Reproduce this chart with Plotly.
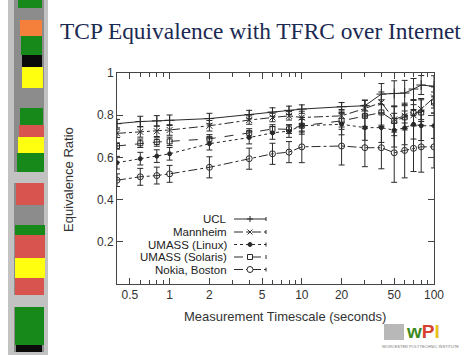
import plotly.graph_objects as go

# ---------------- data ----------------
timescale = [0.4, 0.6, 0.8, 1, 2, 4, 6, 8, 10, 20, 30, 40, 50, 60, 70, 80, 100]

ucl = [0.76, 0.77, 0.773, 0.776, 0.784, 0.803, 0.815, 0.823, 0.829, 0.84, 0.845, 0.90, 0.903, 0.905, 0.924, 0.943, 0.937]
ucl_err = [0.02, 0.025, 0.025, 0.025, 0.025, 0.02, 0.02, 0.02, 0.02, 0.02, 0.025, 0.05, 0.06, 0.06, 0.05, 0.045, 0.05]

mannheim = [0.714, 0.721, 0.724, 0.730, 0.75, 0.777, 0.789, 0.797, 0.789, 0.797, 0.832, 0.86, 0.78, 0.797, 0.80, 0.829, 0.884]
mannheim_err = [0.02, 0.025, 0.025, 0.025, 0.025, 0.02, 0.02, 0.02, 0.03, 0.03, 0.04, 0.05, 0.06, 0.06, 0.05, 0.05, 0.05]

linux = [0.575, 0.594, 0.606, 0.617, 0.665, 0.694, 0.716, 0.725, 0.75, 0.757, 0.741, 0.741, 0.729, 0.74, 0.757, 0.75, 0.75]
linux_err = [0.03, 0.03, 0.03, 0.03, 0.03, 0.03, 0.03, 0.03, 0.04, 0.05, 0.06, 0.07, 0.08, 0.08, 0.07, 0.07, 0.06]

solaris = [0.654, 0.667, 0.673, 0.676, 0.688, 0.716, 0.735, 0.733, 0.75, 0.773, 0.797, 0.813, 0.773, 0.79, 0.81, 0.813, 0.86]
solaris_err = [0.015, 0.02, 0.02, 0.02, 0.02, 0.02, 0.02, 0.02, 0.03, 0.04, 0.05, 0.06, 0.07, 0.06, 0.06, 0.06, 0.05]

nokia = [0.492, 0.508, 0.514, 0.522, 0.553, 0.594, 0.617, 0.625, 0.65, 0.654, 0.646, 0.646, 0.622, 0.633, 0.643, 0.65, 0.65]
nokia_err = [0.03, 0.04, 0.04, 0.04, 0.05, 0.05, 0.05, 0.05, 0.075, 0.09, 0.09, 0.10, 0.14, 0.13, 0.11, 0.12, 0.10]

series_names = ["UCL", "Mannheim", "UMASS (Linux)", "UMASS (Solaris)", "Nokia, Boston"]

x_tickvals = [0.5, 1, 2, 5, 10, 20, 50, 100]
x_ticktext = ["0.5", "1", "2", "5", "10", "20", "50", "100"]
x_minor = [0.4, 0.6, 0.7, 0.8, 0.9, 3, 4, 6, 7, 8, 9, 30, 40, 60, 70, 80, 90]
y_tickvals = [0.2, 0.4, 0.6, 0.8, 1.0]
y_ticktext = ["0.2", "0.4", "0.6", "0.8", "1"]

# ---------------- layout geometry ----------------
W, H = 474, 355
L, R, T, B = 117, 40, 73, 71
PW, PH = W - L - R, H - T - B


def px(xp):
    return (xp - L) / PW


def py(yp):
    return (H - B - yp) / PH


INK = "#2a2a2a"
SANS = "Liberation Sans, Arial, sans-serif"
styles = [
    dict(dash="solid", symbol="cross-thin-open", size=7),
    dict(dash="dashdot", symbol="x-thin-open", size=6),
    dict(dash="dot", symbol="circle", size=4),
    dict(dash="dash", symbol="square-open", size=5),
    dict(dash="dashdot", symbol="circle-open", size=6),
]
values = [ucl, mannheim, linux, solaris, nokia]
errors = [ucl_err, mannheim_err, linux_err, solaris_err, nokia_err]

fig = go.Figure()
for name, yv, ev, st in zip(series_names, values, errors, styles):
    fig.add_trace(go.Scatter(
        x=timescale, y=yv, name=name, mode="lines+markers",
        line=dict(color=INK, width=1, dash=st["dash"]),
        marker=dict(symbol=st["symbol"], size=st["size"], color=INK,
                    line=dict(color=INK, width=1)),
        error_y=dict(type="data", array=ev, visible=True, color=INK,
                     thickness=1, width=3),
        showlegend=False,
    ))

shapes = []
annotations = []

# ---------------- manual legend (gnuplot style: text, then sample) ----------------
leg_y = [219, 232, 244.5, 257, 269.5]
for name, yp, st in zip(series_names, leg_y, styles):
    annotations.append(dict(
        x=px(229), y=py(yp), xref="paper", yref="paper", text=name,
        showarrow=False, xanchor="right", yanchor="middle",
        font=dict(family=SANS, size=11.5, color="#222")))
    shapes.append(dict(type="line", xref="paper", yref="paper",
                       x0=px(234), x1=px(266), y0=py(yp), y1=py(yp),
                       line=dict(color=INK, width=1, dash=st["dash"])))
    shapes.append(dict(type="line", xref="paper", yref="paper",
                       x0=px(266), x1=px(266), y0=py(yp - 2), y1=py(yp + 2),
                       line=dict(color=INK, width=1)))
    cx, cy = px(250), py(yp)
    sym = st["symbol"]
    common = dict(xref="paper", yref="paper", xsizemode="pixel", ysizemode="pixel",
                  xanchor=cx, yanchor=cy)
    if sym.startswith("cross"):
        shapes.append(dict(type="line", x0=-3, x1=3, y0=0, y1=0, line=dict(color=INK, width=1), **common))
        shapes.append(dict(type="line", x0=0, x1=0, y0=-3, y1=3, line=dict(color=INK, width=1), **common))
    elif sym.startswith("x"):
        shapes.append(dict(type="line", x0=-2.5, x1=2.5, y0=-2.5, y1=2.5, line=dict(color=INK, width=1), **common))
        shapes.append(dict(type="line", x0=-2.5, x1=2.5, y0=2.5, y1=-2.5, line=dict(color=INK, width=1), **common))
    elif sym == "circle":
        shapes.append(dict(type="circle", x0=-2, x1=2, y0=-2, y1=2, fillcolor=INK, line=dict(color=INK, width=1), **common))
    elif sym == "square-open":
        shapes.append(dict(type="rect", x0=-2.5, x1=2.5, y0=-2.5, y1=2.5, fillcolor="white", line=dict(color=INK, width=1), **common))
    else:
        shapes.append(dict(type="circle", x0=-3, x1=3, y0=-3, y1=3, fillcolor="white", line=dict(color=INK, width=1), **common))

# ---------------- decorative side strip ----------------
GREEN, RED, YEL, ORG, BLK = "#16891a", "#d8544e", "#ffff10", "#f4803c", "#0a0a0a"
LGRAY, MGRAY = "#c2c2c2", "#8c8c8c"


def box(x0, x1, y0, y1, color):
    shapes.append(dict(type="rect", xref="paper", yref="paper",
                       x0=px(x0), x1=px(x1), y0=py(y1), y1=py(y0),
                       fillcolor=color, line=dict(width=0), layer="below"))


box(8, 48, 0, 355, LGRAY)
box(14, 44, 0, 172, MGRAY)
box(14, 44, 183, 295, MGRAY)
box(14, 44, 307, 352, MGRAY)
blocks = [
    (18, 42, 0, 8, GREEN), (20, 42, 20, 36, ORG), (21, 42, 36, 55, GREEN),
    (22, 42, 55, 67, BLK), (22, 43, 67, 88, YEL), (20, 43, 108, 125, GREEN),
    (19, 44, 125, 137, RED), (18, 44, 137, 153, YEL), (17, 44, 153, 172, GREEN),
    (16, 44, 183, 205, RED), (15, 45, 225, 235, GREEN), (15, 45, 235, 258, RED),
    (15, 45, 258, 278, YEL), (15, 44, 278, 295, RED), (15, 44, 307, 345, GREEN),
    (16, 42, 345, 352, BLK),
]
for b in blocks:
    box(*b)

# ---------------- title ----------------
annotations.append(dict(
    x=px(58), y=py(31), xref="paper", yref="paper", xanchor="left", yanchor="middle",
    text="TCP Equivalence with TFRC over Internet", showarrow=False,
    font=dict(family="Liberation Serif, Times New Roman, serif", size=23.4, color="#1b2a52")))

# ---------------- axis titles ----------------
annotations.append(dict(
    x=px(285), y=py(316), xref="paper", yref="paper", xanchor="center", yanchor="middle",
    text="Measurement Timescale (seconds)", showarrow=False,
    font=dict(family=SANS, size=13, color="#333")))
annotations.append(dict(
    x=px(68), y=py(180), xref="paper", yref="paper", xanchor="center", yanchor="middle",
    text="Equivalence Ratio", showarrow=False, textangle=-90,
    font=dict(family=SANS, size=13, color="#333")))

# ---------------- logo ----------------
box(384, 404, 324, 340, "#b8b8b8")
annotations.append(dict(x=px(404), y=py(331), xref="paper", yref="paper", xanchor="left",
                        yanchor="middle", showarrow=False,
                        text="<b><span style='color:#3c8a1e'>w</span><span style='color:#d6402c'>P</span><span style='color:#e8c21c'>I</span></b>",
                        font=dict(family=SANS, size=19)))
annotations.append(dict(x=px(420), y=py(346), xref="paper", yref="paper", xanchor="center",
                        yanchor="middle", showarrow=False,
                        text="WORCESTER POLYTECHNIC INSTITUTE",
                        font=dict(family=SANS, size=4, color="#777")))

AXFONT = dict(family=SANS, size=12, color="#333")

fig.update_layout(
    width=W, height=H,
    margin=dict(l=L, r=R, t=T, b=B, pad=0, autoexpand=False),
    paper_bgcolor="white", plot_bgcolor="white",
    showlegend=False,
    shapes=shapes, annotations=annotations,
    xaxis=dict(
        type="log", range=[-0.398, 2.0], automargin=False,
        tickvals=x_tickvals, ticktext=x_ticktext,
        ticks="inside", ticklen=6, tickcolor="#444",
        minor=dict(tickvals=x_minor, ticks="inside", ticklen=4, tickcolor="#444", showgrid=False),
        showline=True, linecolor="#444", linewidth=1, mirror="allticks",
        showgrid=False, zeroline=False,
        tickfont=AXFONT,
    ),
    yaxis=dict(
        range=[0, 1], automargin=False,
        tickvals=y_tickvals, ticktext=y_ticktext,
        ticks="inside", ticklen=6, tickcolor="#444",
        showline=True, linecolor="#444", linewidth=1, mirror="allticks",
        showgrid=False, zeroline=False,
        tickfont=AXFONT,
    ),
)

fig.write_html(
    "out.html",
    config={"displayModeBar": False},
    post_script="document.body.style.margin='0';document.body.style.padding='0';",
)
